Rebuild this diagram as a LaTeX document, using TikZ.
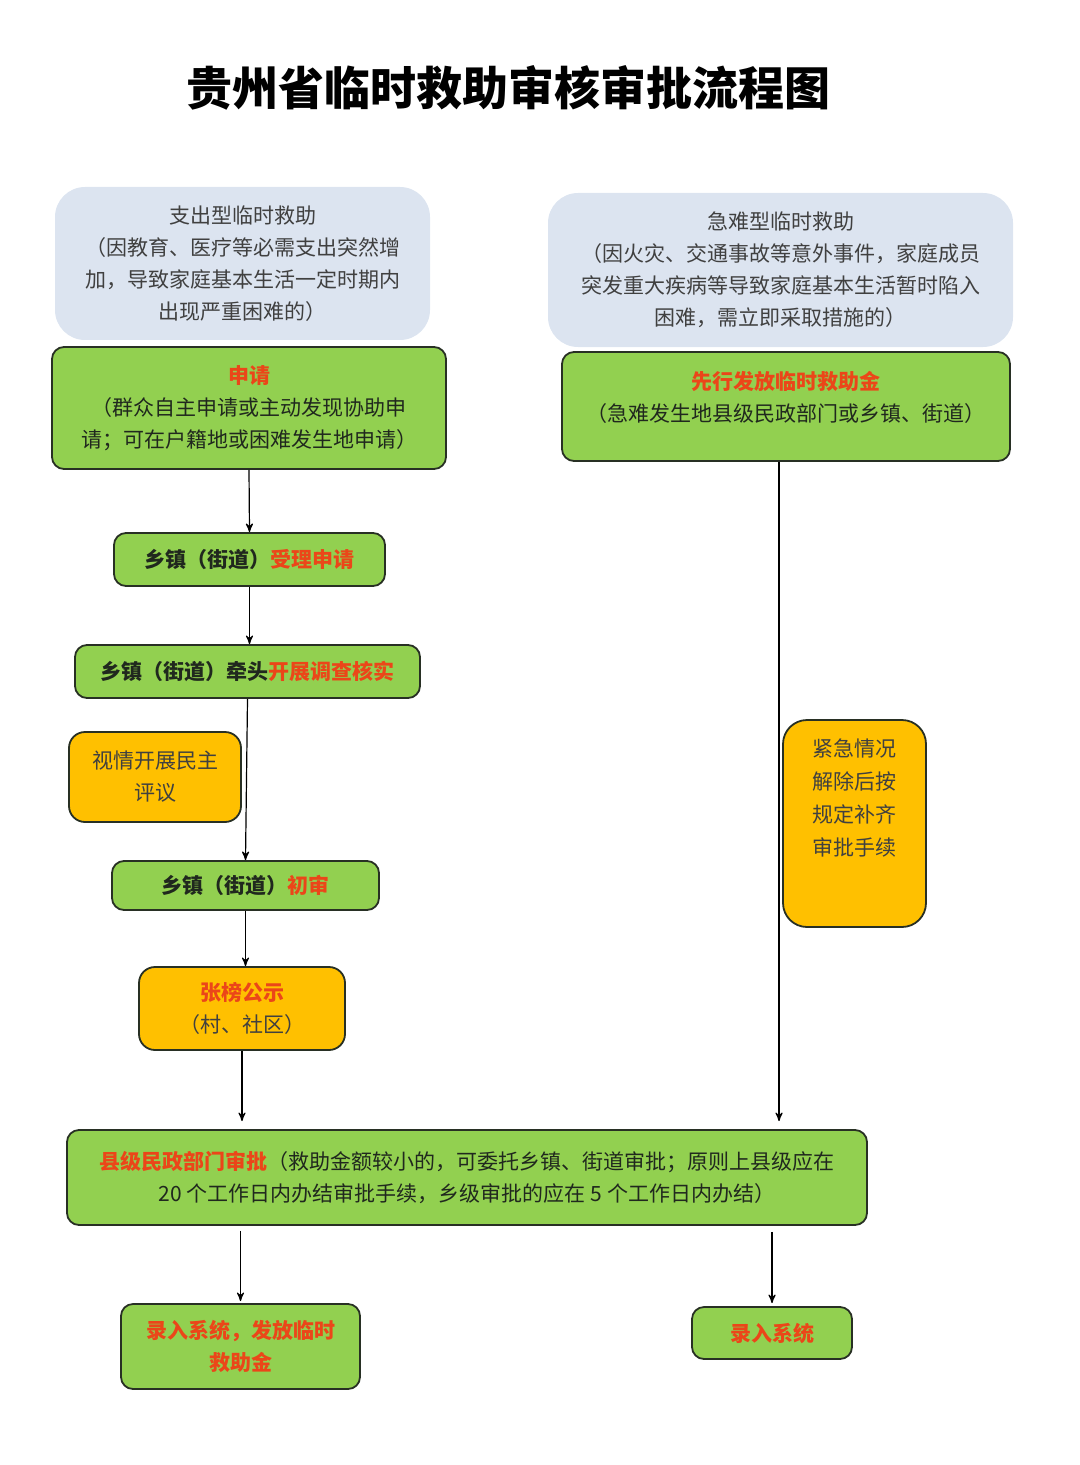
\documentclass[tikz,border=0pt]{standalone}
\usepackage{fontspec}
\setmainfont{Noto Sans CJK SC}
\usetikzlibrary{%
  arrows,%
  positioning,%
  calc%
}

\definecolor{boxblue}{RGB}{220,228,240}
\definecolor{boxgreen}{RGB}{146,208,80}
\definecolor{boxyellow}{RGB}{255,192,0}
\definecolor{hired}{RGB}{235,70,25}
\definecolor{txtgray}{RGB}{64,64,64}
\definecolor{txtdark}{RGB}{32,40,30}
\definecolor{edgedark}{RGB}{40,48,36}

\newcommand{\hl}[1]{{\color{hired}\bfseries #1}}

\tikzset{
  boxsize/.style 2 args={minimum width=#1*0.5pt,minimum height=#2*0.5pt},
  base/.style={inner sep=0pt,align=center,font=\fontsize{10.5}{16}\selectfont},
  bluebox/.style={base,fill=boxblue,rounded corners=15pt,text=txtgray},
  greenbox/.style={base,fill=boxgreen,draw=edgedark,line width=0.9pt,rounded corners=6pt,text=txtdark},
  yellowbox/.style={base,fill=boxyellow,draw=edgedark,line width=0.9pt,rounded corners=8pt,text=txtgray},
  plain/.style={base},
  flow/.style={->,line width=0.6pt}
}

\begin{document}
\begin{tikzpicture}[x=0.5pt,y=-0.5pt,>=stealth']

\useasboundingbox (0,0) rectangle (1080,1465);

% -------- title
\node[font=\fontsize{23}{28}\selectfont\bfseries] (title) at (508,88) {贵州省临时救助审核审批流程图};

% -------- two kinds
\node[bluebox,boxsize={375}{153}] (expbox) at (242.5,263.5)
  {支出型临时救助\\（因教育、医疗等必需支出突然增\\加，导致家庭基本生活一定时期内\\出现严重困难的）};
\node[bluebox,boxsize={465}{154}] (urgbox) at (780.5,270)
  {急难型临时救助\\（因火灾、交通事故等意外事件，家庭成员\\突发重大疾病等导致家庭基本生活暂时陷入\\困难，需立即采取措施的）};

% -------- left column
\node[greenbox,boxsize={394}{122}] (apply) at (249,408)
  {\hl{申请}\\（群众自主申请或主动发现协助申\\请；可在户籍地或困难发生地申请）};
\node[greenbox,boxsize={271}{53},font=\fontsize{10.5}{16}\selectfont\bfseries] (accept) at (249.5,559.5)
  {乡镇（街道）\hl{受理申请}};
\node[greenbox,boxsize={345}{53},font=\fontsize{10.5}{16}\selectfont\bfseries] (survey) at (247.5,671.5)
  {乡镇（街道）牵头\hl{开展调查核实}};
\node[yellowbox,boxsize={172}{90}] (review) at (155,777)
  {视情开展民主\\评议};
\node[greenbox,boxsize={267}{49},font=\fontsize{10.5}{16}\selectfont\bfseries] (firstcheck) at (245.5,885.5)
  {乡镇（街道）\hl{初审}};
\node[yellowbox,boxsize={206}{83}] (publish) at (242,1008.5)
  {\hl{张榜公示}\\（村、社区）};

% -------- right column
\node[greenbox,boxsize={448}{109}] (advance) at (786,406.5) {};
\node[plain,text=txtdark] (advancetxt) at ($(advance.center)+(0,-9)$)
  {\hl{先行发放临时救助金}\\（急难发生地县级民政部门或乡镇、街道）};
\node[yellowbox,boxsize={143}{207},rounded corners=12pt] (emerg) at (854.5,823.5) {};
\node[plain,text=txtgray,font=\fontsize{10.5}{16.5}\selectfont] (emergtxt) at ($(emerg.center)+(0,-25.5)$)
  {紧急情况\\解除后按\\规定补齐\\审批手续};

% -------- bottom
\node[greenbox,boxsize={800}{95}] (county) at (467,1177.5)
  {\hl{县级民政部门审批}（救助金额较小的，可委托乡镇、街道审批；原则上县级应在\\20 个工作日内办结审批手续，乡级审批的应在 5 个工作日内办结）};
\node[greenbox,boxsize={239}{85}] (payout) at (240.5,1346.5)
  {\hl{录入系统，发放临时}\\\hl{救助金}};
\node[greenbox,boxsize={160}{52}] (record) at (772,1333)
  {\hl{录入系统}};

% -------- arrows
\coordinate (rline) at (779,0);
\draw[flow] (apply.south) -- (accept.north);
\draw[flow] (accept.south) -- (accept.south |- survey.north);
\draw[flow] (survey.south) -- (firstcheck.north);
\draw[flow] (firstcheck.south) -- (firstcheck.south |- publish.north);
\draw[flow,shorten >=4pt] (publish.south) -- (publish.south |- county.north);
\draw[flow,shorten >=4pt] (advance.south -| rline) -- (county.north -| rline);
\draw[flow,shorten <=2.5pt,shorten >=1pt] (county.south -| payout.north) -- (payout.north);
\draw[flow,shorten <=3pt,shorten >=1.5pt] (county.south -| record.north) -- (record.north);

\end{tikzpicture}
\end{document}
